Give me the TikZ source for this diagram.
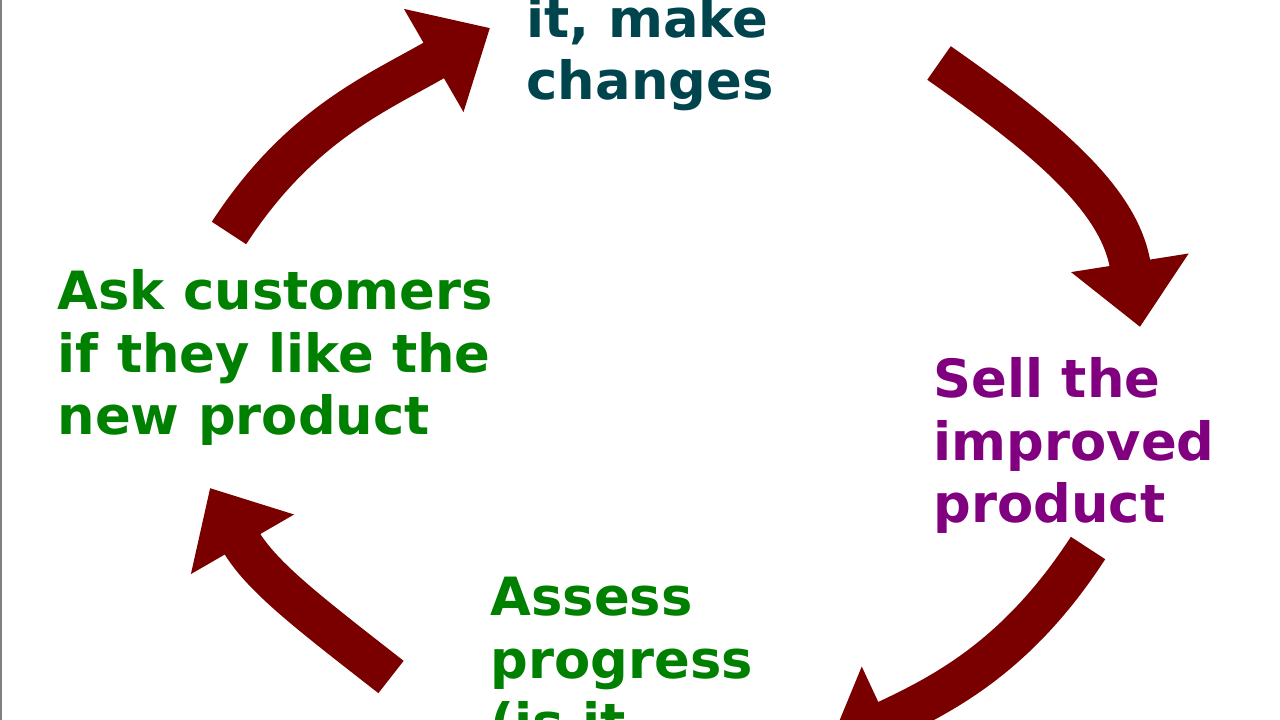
\documentclass[tikz,border=0pt]{standalone}
\usepackage{fontspec}
\setmainfont{DejaVu Sans}
\usetikzlibrary{arrows.meta}
\definecolor{cyclered}{RGB}{122,0,0}
\definecolor{stepgreen}{RGB}{0,128,0}
\definecolor{steppurple}{RGB}{128,0,128}
\definecolor{stepteal}{RGB}{0,68,78}
\begin{document}
\begin{tikzpicture}[
  steptext/.style={anchor=base west,align=left,inner sep=0pt,font=\bfseries\fontsize{15}{17.8}\selectfont},
  cyclearrow/.style={draw=cyclered,line width=4.1mm,-{Triangle[width=11.5mm,length=6.5mm]}}
]
\clip (0,0) rectangle (12.8,-7.2);
\fill[white] (0,0) rectangle (12.8,-7.2);
\draw[gray,line width=0.2mm] (0.01,0) -- (0.01,-7.2);
% steps of the cycle (base = last line)
\node[steptext,text=stepteal] (change) at (5.26,-1.00) {it, make\\changes};
\node[steptext,text=steppurple] (sell) at (9.33,-5.23) {Sell the\\improved\\product};
\node[steptext,text=stepgreen] (assess) at (4.90,-7.41) {Assess\\progress\\(is it};
\node[steptext,text=stepgreen] (ask) at (0.57,-4.35) {Ask customers\\if they like the\\new product};
% ends of the arrows
\coordinate (tl-tail) at (2.29,-2.33);
\coordinate (tl-tip) at (4.90,-0.28);
\coordinate (tr-tail) at (9.39,-0.63);
\coordinate (tr-tip) at (11.40,-3.27);
\coordinate (br-tail) at (10.88,-5.48);
\coordinate (br-tip) at (8.28,-7.48);
\coordinate (bl-tail) at (3.91,-6.77);
\coordinate (bl-tip) at (2.10,-4.88);
\draw[cyclearrow] (tl-tail) to[out=57,in=210] (tl-tip);
\draw[cyclearrow] (tr-tail) to[out=-35,in=99] (tr-tip);
\draw[cyclearrow] (br-tail) to[out=-123,in=25] (br-tip);
\draw[cyclearrow] (bl-tail) to[out=142,in=300] (bl-tip);
\end{tikzpicture}
\end{document}
